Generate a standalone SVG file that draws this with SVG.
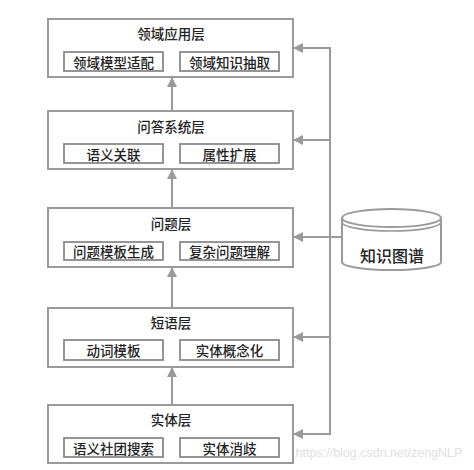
<svg xmlns="http://www.w3.org/2000/svg" width="474" height="470" viewBox="0 0 474 470">
<defs>
<marker id="ah" viewBox="0 0 10 10" refX="9" refY="5" markerWidth="10" markerHeight="10" markerUnits="userSpaceOnUse" orient="auto">
<path d="M0,0 L10,5 L0,10 z" fill="#9a9a9a"/>
</marker>
<style>
.layer{fill:#fff;stroke:#9a9a9a;stroke-width:2}
.sub{fill:#fff;stroke:#8a8a8a;stroke-width:1.8}
.t{font-family:"Noto Sans CJK SC","Noto Sans",sans-serif;font-size:13.5px;font-weight:500;fill:#222;text-anchor:middle;dominant-baseline:central}
.conn{fill:none;stroke:#9a9a9a;stroke-width:2}
</style>
</defs>
<rect width="474" height="470" fill="#fff"/>
<g id="layer-domain">
<rect class="layer" x="48" y="19" width="245" height="58"/>
<text class="t" x="171" y="33">领域应用层</text>
<rect class="sub" x="64" y="52" width="99" height="19"/>
<text class="t" x="113.5" y="61.5">领域模型适配</text>
<rect class="sub" x="180" y="52" width="99" height="19"/>
<text class="t" x="229.5" y="61.5">领域知识抽取</text>
</g>
<g id="layer-qa">
<rect class="layer" x="48" y="111" width="245" height="58"/>
<text class="t" x="171" y="126">问答系统层</text>
<rect class="sub" x="64" y="144" width="99" height="19"/>
<text class="t" x="113.5" y="153.5">语义关联</text>
<rect class="sub" x="180" y="144" width="99" height="19"/>
<text class="t" x="229.5" y="153.5">属性扩展</text>
</g>
<g id="layer-question">
<rect class="layer" x="48" y="208" width="245" height="59"/>
<text class="t" x="171" y="223">问题层</text>
<rect class="sub" x="64" y="242" width="99" height="18"/>
<text class="t" x="113.5" y="251">问题模板生成</text>
<rect class="sub" x="180" y="242" width="99" height="18"/>
<text class="t" x="229.5" y="251">复杂问题理解</text>
</g>
<g id="layer-phrase">
<rect class="layer" x="48" y="308" width="245" height="59"/>
<text class="t" x="171" y="322">短语层</text>
<rect class="sub" x="64" y="340" width="99" height="20"/>
<text class="t" x="113.5" y="350">动词模板</text>
<rect class="sub" x="180" y="340" width="99" height="20"/>
<text class="t" x="229.5" y="350">实体概念化</text>
</g>
<g id="layer-entity">
<rect class="layer" x="48" y="405" width="245" height="58"/>
<text class="t" x="171" y="419">实体层</text>
<rect class="sub" x="64" y="438" width="99" height="19"/>
<text class="t" x="113.5" y="447.5">语义社团搜索</text>
<rect class="sub" x="180" y="438" width="99" height="19"/>
<text class="t" x="229.5" y="447.5">实体消歧</text>
</g>
<g id="kg">
<path d="M342,218 L342,262 A49.5,8 0 0 0 441,262 L441,218" fill="#fff" stroke="#9a9a9a" stroke-width="2"/>
<ellipse cx="391.5" cy="218" rx="49.5" ry="9" fill="#fff" stroke="#9a9a9a" stroke-width="2"/>
<path d="M342,222 A49.5,9 0 0 0 441,222" fill="none" stroke="#9a9a9a" stroke-width="1.6"/>
<text x="392" y="255" font-family="'Noto Sans CJK SC','Noto Sans',sans-serif" font-size="16" font-weight="500" fill="#222" text-anchor="middle" dominant-baseline="central">知识图谱</text>
</g>
<g id="connectors">
<line class="conn" x1="172" y1="111" x2="172" y2="78" marker-end="url(#ah)"/>
<line class="conn" x1="172" y1="208" x2="172" y2="170" marker-end="url(#ah)"/>
<line class="conn" x1="172" y1="308" x2="172" y2="268" marker-end="url(#ah)"/>
<line class="conn" x1="172" y1="405" x2="172" y2="368" marker-end="url(#ah)"/>
<line class="conn" x1="330" y1="47" x2="330" y2="435"/>
<line class="conn" x1="342" y1="237" x2="330" y2="237"/>
<line class="conn" x1="330" y1="48" x2="294" y2="48" marker-end="url(#ah)"/>
<line class="conn" x1="330" y1="140" x2="294" y2="140" marker-end="url(#ah)"/>
<line class="conn" x1="330" y1="237" x2="294" y2="237" marker-end="url(#ah)"/>
<line class="conn" x1="330" y1="337" x2="294" y2="337" marker-end="url(#ah)"/>
<line class="conn" x1="330" y1="434" x2="294" y2="434" marker-end="url(#ah)"/>
</g>
<text x="379" y="453" font-family="'Liberation Sans',Arial,sans-serif" font-size="12.5" fill="#e0e0e0" text-anchor="middle" dominant-baseline="central">https://blog.csdn.net/zengNLP</text>
</svg>
